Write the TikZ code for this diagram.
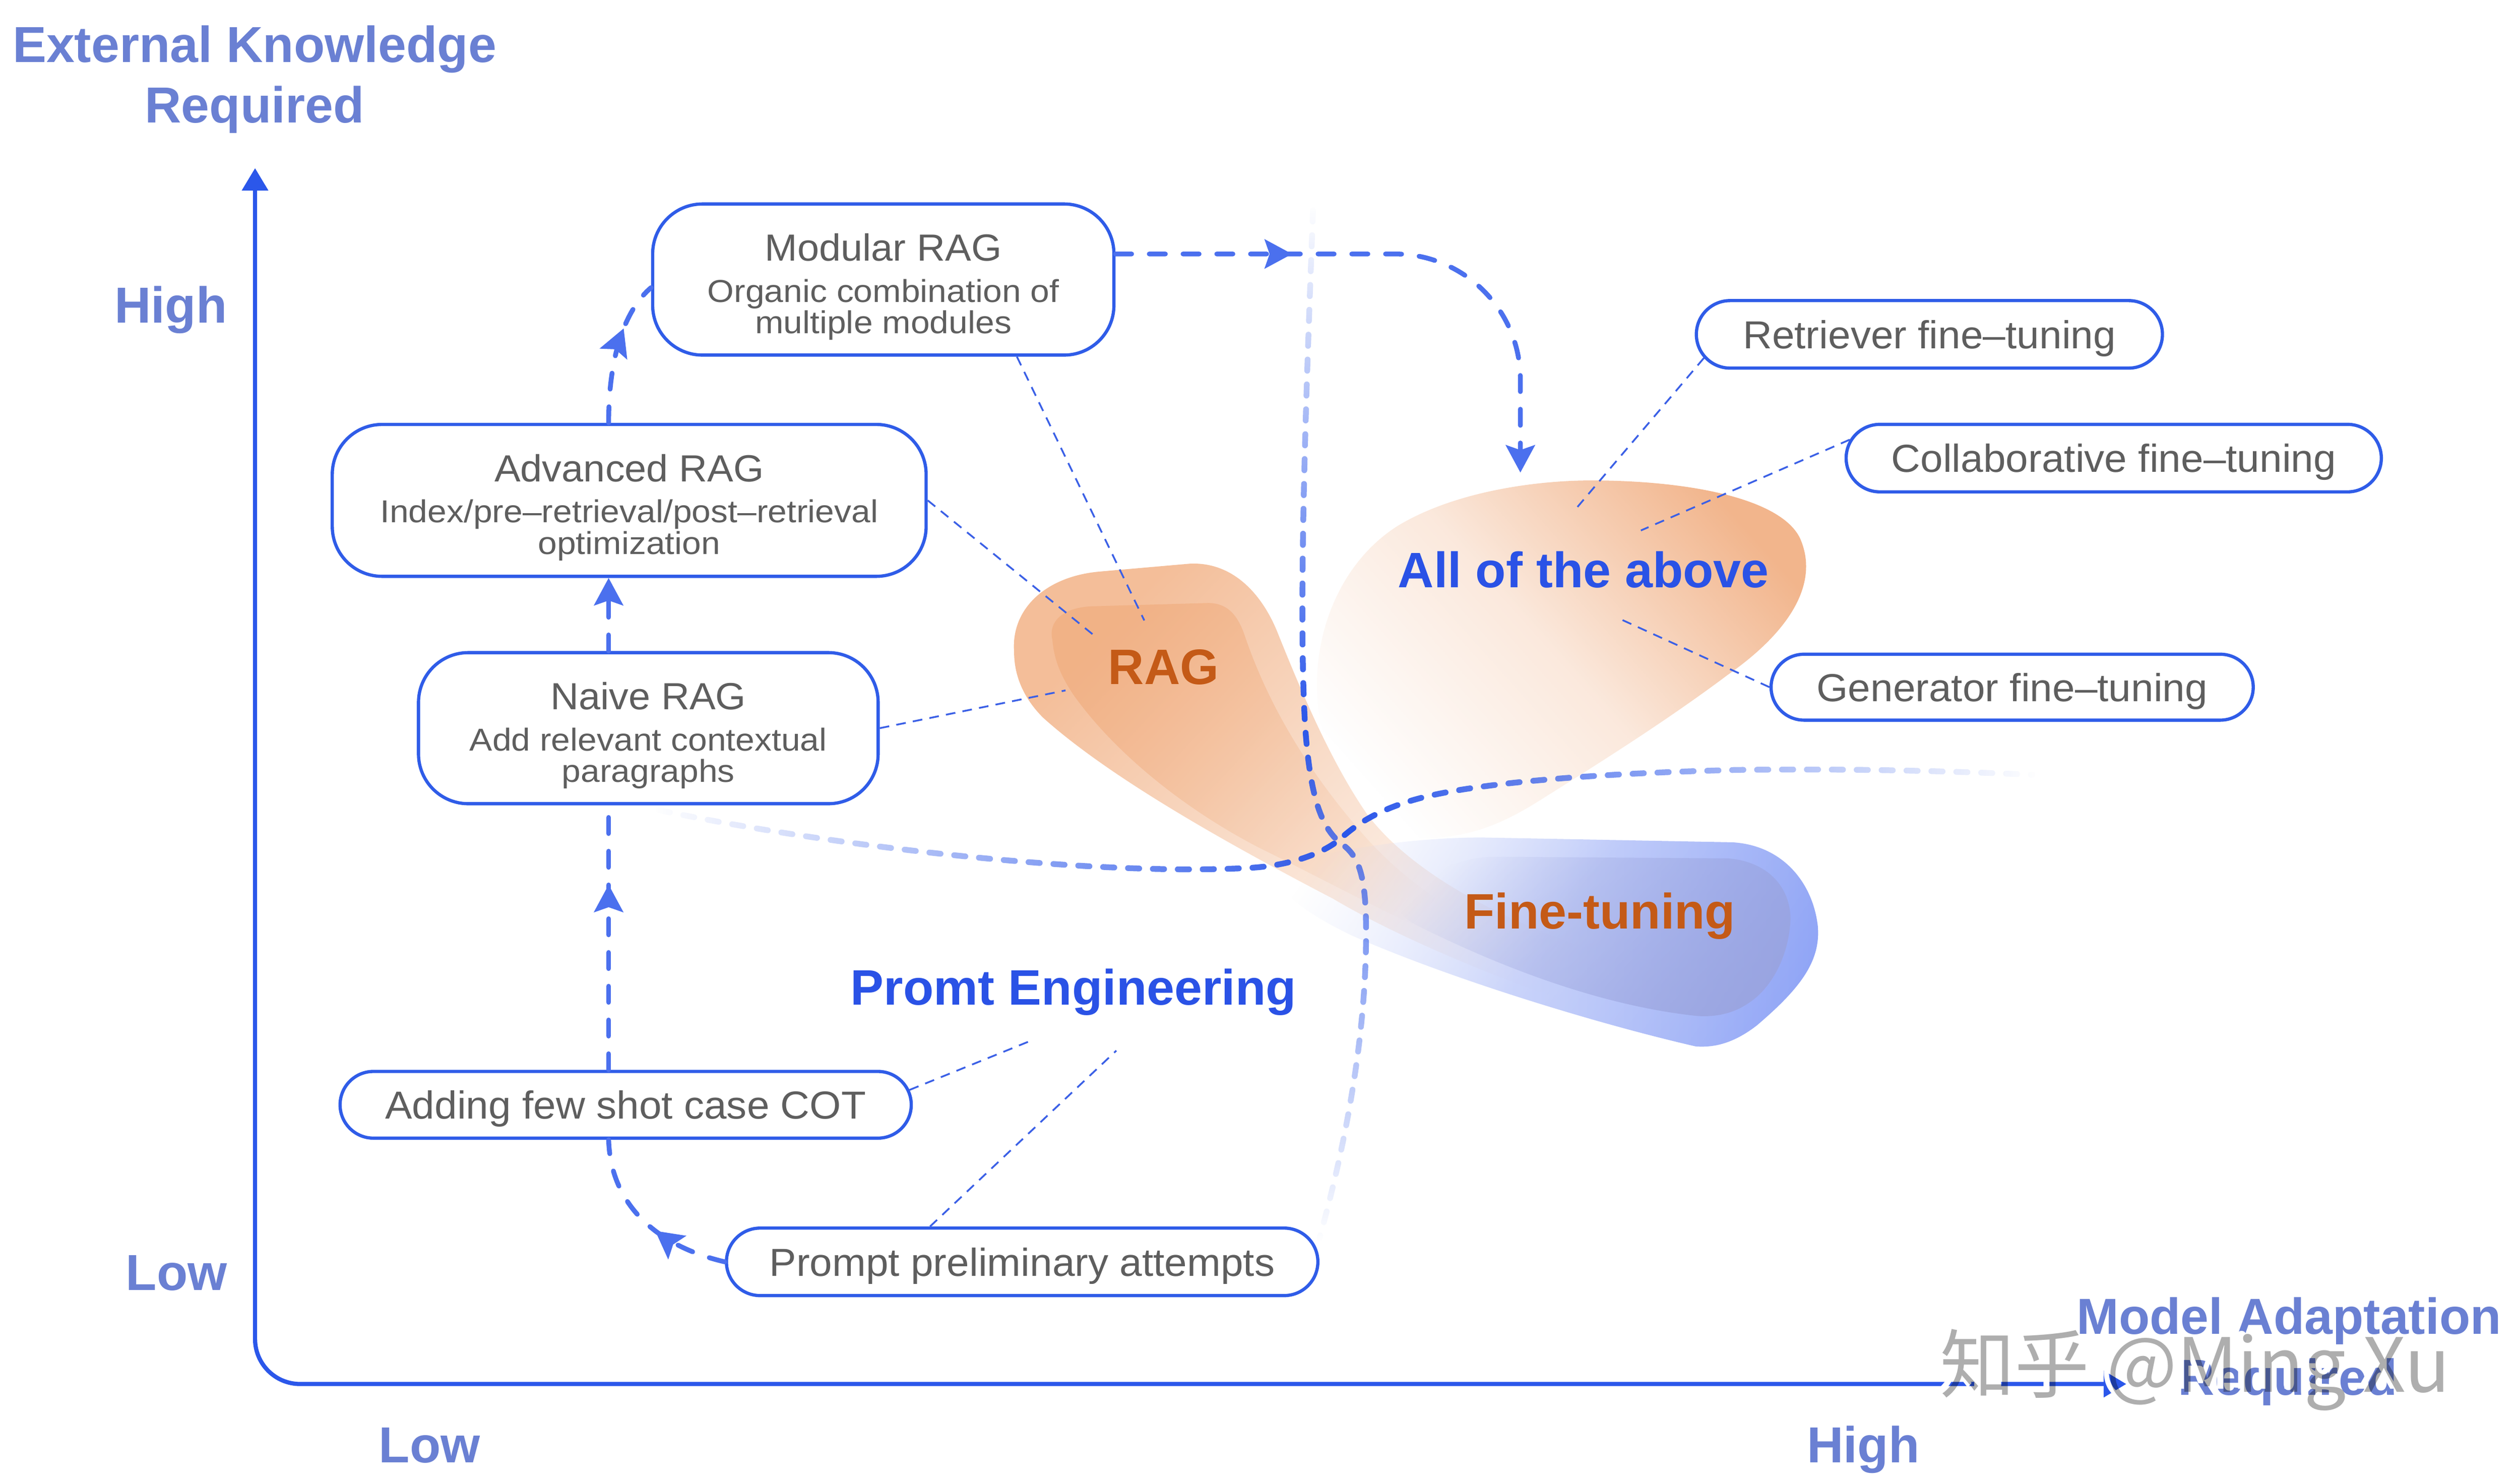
\documentclass[tikz,border=0pt]{standalone}
\usepackage{fontspec}
\setmainfont{Liberation Sans}
\newfontfamily\boxfont[FakeStretch=1.035]{Liberation Sans}
\newfontfamily\subfont[FakeStretch=1.08]{Liberation Sans}
\newfontfamily\wmfont{Noto Sans CJK SC}
\usetikzlibrary{arrows.meta,fadings,decorations.markings,shapes.misc}
\definecolor{axisblue}{HTML}{2B57EA}
\definecolor{boxblue}{HTML}{2F5CE8}
\definecolor{dashblue}{HTML}{4B70EE}
\definecolor{thinblue}{HTML}{3B60E6}
\definecolor{lblblue}{HTML}{6A80D3}
\definecolor{textgray}{HTML}{5E5E5E}
\definecolor{bigblue}{HTML}{2A52E6}
\definecolor{orangetext}{HTML}{C45A17}
\definecolor{allor}{HTML}{F2B58C}
\definecolor{ragouter}{HTML}{F4BE99}
\definecolor{raginner}{HTML}{F0AA7A}
\definecolor{ftouter}{HTML}{8FA4F6}
\definecolor{ftlight}{HTML}{D9E0FB}
\definecolor{ftinner}{HTML}{9AA3DC}
\definecolor{wmgray}{HTML}{AEAEAE}
\tikzfading[name=fadeLR, left color=transparent!0, right color=transparent!100]
\tikzfading[name=fadeFt, left color=transparent!0, right color=transparent!100, middle color=transparent!25]
\tikzfading[name=fadeAll, left color=transparent!0, right color=transparent!100, middle color=transparent!70]
\tikzfading[name=fadeRag, left color=transparent!0, right color=transparent!100, middle color=transparent!55]
\tikzfading[name=fadeMidH, left color=transparent!100, right color=transparent!100, middle color=transparent!0]
\tikzfading[name=fadeMidV, top color=transparent!100, bottom color=transparent!100, middle color=transparent!0]
\tikzset{
  bigbox/.style={draw=boxblue, line width=2pt, fill=white, rounded corners=31pt, inner sep=0pt},
  pill/.style={rounded rectangle, draw=boxblue, line width=2pt, fill=white, inner sep=0pt, minimum height=42pt},
  ttl/.style={anchor=base, text=textgray, font=\boxfont\fontsize{23.5}{28}\selectfont, inner sep=0pt},
  subtxt/.style={anchor=base, text=textgray, font=\subfont\fontsize{19.7}{24}\selectfont, inner sep=0pt},
  pilltext/.style={anchor=base, text=textgray, font=\boxfont\fontsize{24.3}{30}\selectfont, inner sep=0pt},
  axlbl/.style={anchor=base, text=lblblue, font=\bfseries\fontsize{31.5}{36}\selectfont, inner sep=0pt},
  biglbl/.style={anchor=base, font=\bfseries\fontsize{31}{36}\selectfont, inner sep=0pt},
  dasharr/.style={draw=dashblue, line width=3pt, line cap=round, dash pattern=on 10pt off 11pt},
  thinconn/.style={draw=thinblue, line width=1.1pt, dash pattern=on 6pt off 4.5pt},
  boundcurve/.style={draw=axisblue, line width=3.6pt, line cap=round, dash pattern=on 7pt off 8.5pt},
  tipshape/.tip={Stealth[length=17pt,width=18pt,inset=3pt]},
  midarrow/.style={postaction={decorate, decoration={markings, mark=at position #1 with {\arrow{tipshape}}}}},
  wmtext/.style={anchor=base west, inner sep=0pt, font=\wmfont\fontsize{46.5}{52}\selectfont}
}
\begin{document}
\begin{tikzpicture}[x=1pt,y=-1pt]
\useasboundingbox (0,0) rectangle (1568,920);
\fill[white] (0,0) rectangle (1568,920);

% ---------- blobs ----------
\fill[allor, path fading=fadeAll, fading angle=212]
  (822,452) .. controls (812,405) and (830,352) .. (870,327) .. controls (905,306) and (955,299) .. (990,299)
  .. controls (1050,299) and (1108,310) .. (1120,335) .. controls (1132,362) and (1115,392) .. (1075,420)
  .. controls (1035,450) and (990,478) .. (955,500) .. controls (935,512) and (915,522) .. (880,522)
  .. controls (850,520) and (828,490) .. (822,452) -- cycle;
\fill[ragouter, path fading=fadeRag, fading angle=-35]
  (632,405) .. controls (630,378) and (652,358) .. (685,355) -- (742,350) .. controls (768,349) and (786,368) .. (796,392)
  .. controls (812,432) and (830,474) .. (852,506) .. controls (885,550) and (960,585) .. (1040,605) -- (1030,640)
  .. controls (960,620) and (880,588) .. (831,559) .. controls (760,522) and (690,482) .. (650,446)
  .. controls (638,434) and (632,420) .. (632,405) -- cycle;
\fill[raginner, opacity=0.6, path fading=fadeRag, fading angle=-35]
  (655,398) .. controls (652,385) and (664,377) .. (682,377) -- (752,375) .. controls (765,375) and (771,384) .. (775,396)
  .. controls (790,440) and (815,480) .. (845,515) .. controls (870,545) and (900,565) .. (930,580) -- (920,592)
  .. controls (880,578) and (830,550) .. (785,528) .. controls (740,505) and (695,470) .. (668,432)
  .. controls (660,420) and (656,410) .. (655,398) -- cycle;
\shade[left color=ftlight, right color=ftouter, path fading=fadeFt, fading angle=165]
  (790,540) .. controls (830,528) and (880,521) .. (922,521) -- (1078,524) .. controls (1110,526) and (1128,550) .. (1131,576)
  .. controls (1133,598) and (1120,615) .. (1093,638) .. controls (1080,648) and (1068,652) .. (1055,651)
  .. controls (990,636) and (900,608) .. (841,582) .. controls (812,568) and (795,555) .. (790,540) -- cycle;
\fill[ftinner, opacity=0.8, path fading=fadeLR, fading angle=158]
  (880,548) .. controls (900,538) and (915,533) .. (930,533) -- (1075,534) .. controls (1100,536) and (1114,552) .. (1114,572)
  .. controls (1113,595) and (1102,615) .. (1088,624) .. controls (1078,631) and (1066,633) .. (1055,632)
  .. controls (1000,626) and (940,605) .. (880,575) .. controls (866,567) and (866,556) .. (880,548) -- cycle;

% ---------- boundary curves ----------
\draw[boundcurve, path fading=fadeMidH]
  (410,504) .. controls (520,527) and (680,545) .. (776,540) .. controls (800,539) and (822,532) .. (834,522)
  .. controls (845,512) and (860,502) .. (890,495) .. controls (930,486) and (1000,481) .. (1080,479)
  .. controls (1160,478) and (1220,480) .. (1265,482);
\draw[boundcurve, path fading=fadeMidV]
  (817,130) .. controls (812,260) and (808,380) .. (812,450) .. controls (815,495) and (822,514) .. (834,524)
  .. controls (846,532) and (850,545) .. (850,580) .. controls (850,650) and (835,720) .. (821,770);

% ---------- axes ----------
\coordinate (ytip) at (158.7,104.6);
\coordinate (origin) at (158.7,861);
\coordinate (xtip) at (1323,861);
\draw[axisblue, line width=2.6pt, rounded corners=28pt, {Triangle[length=14pt,width=16pt]}-{Triangle[length=14pt,width=16pt]}] (ytip) -- (origin) -- (xtip);

% ---------- boxes ----------
\node[bigbox, minimum width=287pt, minimum height=94pt] (modular) at (549.6,173.9) {};
\node[bigbox, minimum width=369.5pt, minimum height=94.5pt] (adv) at (391.5,311.3) {};
\node[bigbox, minimum width=286pt, minimum height=94pt] (naive) at (403.4,453) {};
\node[pill, minimum width=290pt] (retr) at (1200.5,208) {};
\node[pill, minimum width=333pt] (collab) at (1315.2,285) {};
\node[pill, minimum width=300pt, minimum height=41pt] (gen) at (1252,427.5) {};
\node[pill, minimum width=355.4pt, minimum height=41.5pt] (adding) at (389.3,687.3) {};
\node[pill, minimum width=368pt] (prompt) at (636,785) {};

% ---------- dashed arrows ----------
\coordinate (vx) at (378.7,0);
\coordinate (ey) at (0,158);
\coordinate (allTip) at (946,294);
\draw[dasharr, midarrow=0.42] (prompt.west) .. controls (412,776) and (380,752) .. (adding.south -| vx);
\draw[dasharr, midarrow=0.70] (adding.north -| vx) -- (naive.south -| vx);
\draw[dasharr, -{tipshape}] (naive.north -| vx) -- (adv.south -| vx);
\draw[dasharr, midarrow=0.66] (adv.north -| vx) .. controls (378.7,215) and (392,190) .. (modular.182.4);
\draw[dasharr, midarrow=0.31, -{tipshape}] (modular.east |- ey) -- (868,158) .. controls (911,158) and (946,193) .. (946,236) -- (allTip);

% ---------- thin connectors ----------
\coordinate (cRag1) at (712,386);
\coordinate (cRag2) at (681,395.5);
\coordinate (cRag3) at (663,429.5);
\coordinate (cAll1) at (981,316);
\coordinate (cAll2) at (1021,330);
\coordinate (cAll3) at (1009,385.5);
\coordinate (cPe1) at (640,648);
\coordinate (cPe2) at (694.6,653.6);
\draw[thinconn] (modular.-30.2) -- (cRag1);
\draw[thinconn] (adv.-0.5) -- (cRag2);
\draw[thinconn] (naive.east) -- (cRag3);
\draw[thinconn] (retr.-174.9) -- (cAll1);
\draw[thinconn] (collab.176.9) -- (cAll2);
\draw[thinconn] (gen.west) -- (cAll3);
\draw[thinconn] (adding.3.6) -- (cPe1);
\draw[thinconn] (prompt.159.4) -- (cPe2);

% ---------- box texts ----------
\node[ttl] (modT) at (549.6,162.3) {Modular RAG};
\node[subtxt] (modS1) at (549.6,187.9) {Organic combination of};
\node[subtxt] (modS2) at (549.6,207.6) {multiple modules};
\node[ttl] (advT) at (391.5,299.5) {Advanced RAG};
\node[subtxt] (advS1) at (391.5,325.1) {Index/pre–retrieval/post–retrieval};
\node[subtxt] (advS2) at (391.5,344.8) {optimization};
\node[ttl] (naiT) at (403.4,441.4) {Naive RAG};
\node[subtxt] (naiS1) at (403.4,467) {Add relevant contextual};
\node[subtxt] (naiS2) at (403.4,486.7) {paragraphs};
\node[pilltext] (retrT) at (1200.5,216.8) {Retriever fine–tuning};
\node[pilltext] (collabT) at (1315.2,293.8) {Collaborative fine–tuning};
\node[pilltext] (genT) at (1252,436.3) {Generator fine–tuning};
\node[pilltext] (addingT) at (389.3,696.1) {Adding few shot case COT};
\node[pilltext] (promptT) at (636,793.8) {Prompt preliminary attempts};

% ---------- big labels ----------
\node[biglbl, text=orangetext] (ragL) at (724,425.7) {RAG};
\node[biglbl, text=bigblue] (allL) at (985.3,365.5) {All of the above};
\node[biglbl, text=orangetext] (ftL) at (995.4,577.7) {Fine-tuning};
\node[biglbl, text=bigblue] (peL) at (668,625) {Promt Engineering};

% ---------- axis labels ----------
\node[axlbl] (ekL1) at (158.4,38.6) {External Knowledge};
\node[axlbl] (ekL2) at (158.4,76.5) {Required};
\node[axlbl] (yHigh) at (106.3,201) {High};
\node[axlbl] (yLow) at (109.8,802.6) {Low};
\node[axlbl] (xLow) at (267.2,910) {Low};
\node[axlbl] (xHigh) at (1159.3,910) {High};
\node[axlbl] (maL1) at (1424.3,830) {Model Adaptation};
\node[axlbl] (maL2) at (1423.6,868) {Required};

% ---------- watermark ----------
\node[wmtext, text=white] (wmShadow) at (1203,864) {知乎 @Ming Xu};
\begin{scope}[blend mode=multiply]
\node[wmtext, text=wmgray] (wm) at (1207,866) {知乎 @Ming Xu};
\end{scope}
\end{tikzpicture}
\end{document}
